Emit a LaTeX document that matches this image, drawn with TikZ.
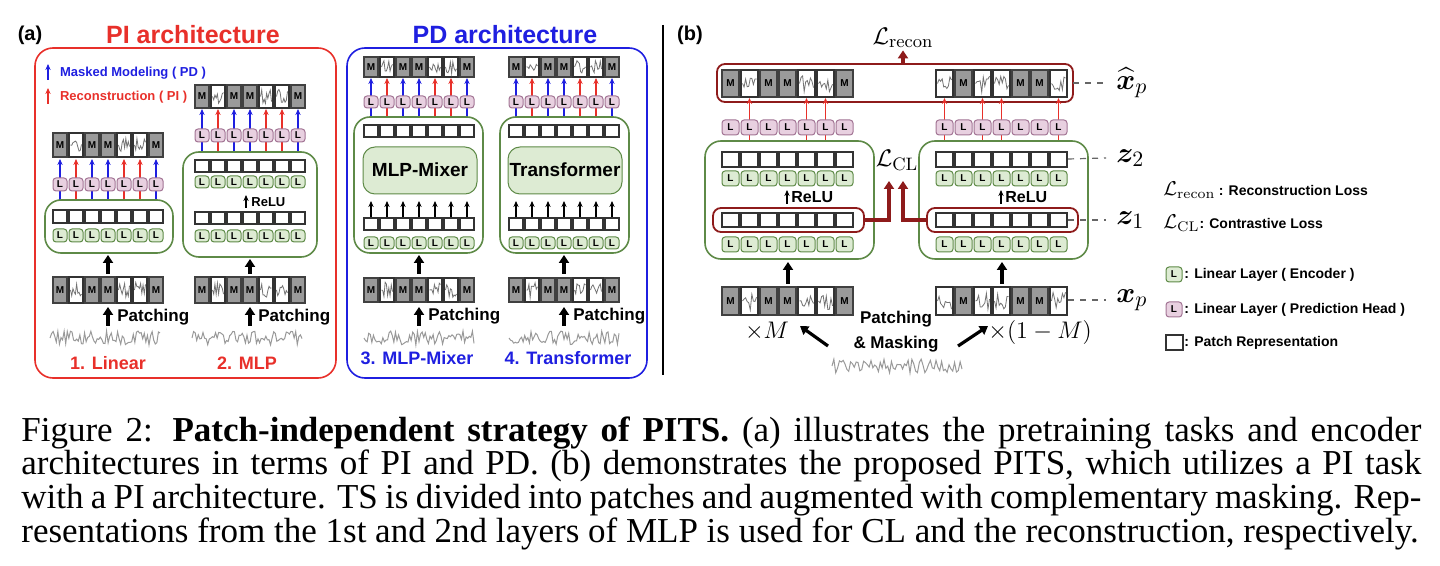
\documentclass[tikz,border=0pt]{standalone}
\usepackage{amsmath,bm}
\usepackage[no-math]{fontspec}
\setmainfont{Liberation Sans}
\newfontfamily\capfont{Liberation Serif}
\usetikzlibrary{arrows.meta}
\definecolor{gfill}{HTML}{DDEBD3}
\definecolor{gdraw}{HTML}{5E8A47}
\definecolor{pfill}{HTML}{E8D0E0}
\definecolor{pdraw}{HTML}{A27494}
\definecolor{dred}{HTML}{8E1B1B}
\definecolor{pired}{HTML}{E8302A}
\definecolor{pdblue}{HTML}{1F1FE0}
\definecolor{mgray}{HTML}{9A9A9A}
\tikzset{
  mcell/.style={draw=black!75,fill=mgray,line width=0.8pt},
  wcell/.style={draw=black!80,fill=white,line width=0.8pt},
  wv/.style={draw=black!55,line width=0.4pt},
  encL/.style={draw=gdraw,fill=gfill,rounded corners=1.5pt,line width=0.5pt},
  preL/.style={draw=pdraw,fill=pfill,rounded corners=1.5pt,line width=0.5pt},
  gbox/.style={draw=gdraw,rounded corners=8pt,line width=0.8pt},
  rbox/.style={draw=dred,rounded corners=4pt,line width=0.9pt},
  thickarr/.style={-{Triangle[length=4pt,width=5pt]},line width=1.6pt},
  redarr/.style={-{Triangle[length=4pt,width=5pt]},line width=2pt,draw=dred},
  thinarr/.style={-{Stealth[length=3pt,width=2.6pt]},line width=0.6pt},
  tiny/.style={font=\bfseries\fontsize{5}{5}\selectfont,inner sep=0pt},
  patch/.style={font=\bfseries\fontsize{8.5}{9}\selectfont,anchor=west,inner sep=0pt},
  lbl/.style={font=\bfseries\fontsize{9}{10}\selectfont,inner sep=0pt},
  ttl/.style={font=\bfseries\fontsize{12.5}{13}\selectfont,inner sep=0pt},
  leg/.style={font=\bfseries\fontsize{7}{8}\selectfont,anchor=west,inner sep=0pt},
  dsh/.style={dashed,black!60,line width=0.6pt},
}
% patch row: x0,y0,pitch,w,h,codes (1=M, 0=wave, 2=empty)
\newcommand\PRow[6]{%
  \foreach \c [count=\i from 0] in {#6}{%
    \pgfmathsetmacro\xx{#1+\i*#3}%
    \ifnum\c=1
      \draw[mcell] (\xx,#2) rectangle ++(#4,#5);
      \node[tiny] at (\xx+#4/2,#2+#5/2) {M};
    \else
      \draw[wcell] (\xx,#2) rectangle ++(#4,#5);
      \ifnum\c=0
        \draw[wv] (\xx+1.5,#2+#5/2) \foreach \k in {1,...,9}{ -- ({\xx+1.5+\k*(#4-3)/9},{#2+#5/2+(rand)*#5*0.32}) };
      \fi
    \fi
  }}
% L row: x0,y0,pitch,w,h,style
\newcommand\LRow[6]{%
  \foreach \i in {0,...,6}{%
    \pgfmathsetmacro\xx{#1+\i*#3}%
    \draw[#6] (\xx,#2) rectangle ++(#4,#5);
    \node[tiny] at (\xx+#4/2,#2+#5/2) {L};
  }}
% arrow row: x0,pitch,w,ybottom,ytop,colours
\newcommand\ARow[6]{%
  \foreach \cl [count=\i from 0] in {#6}{%
    \pgfmathsetmacro\xx{#1+\i*#2+#3/2}%
    \draw[thinarr,draw=\cl] (\xx,#4) -- (\xx,#5);
  }}
% big signal: x0,y,width
\newcommand\Sig[3]{%
  \draw[draw=black!40,line width=0.5pt] (#1,#2) \foreach \k in {1,...,70}{ -- ({#1+\k*#3/70},{#2+(rand)*7}) };}

\begin{document}
\begin{tikzpicture}[x=0.5pt,y=-0.5pt]
\pgfmathsetseed{11}
\useasboundingbox (0,0) rectangle (1440,566);

% ===== (a) =====
\node[font=\bfseries\fontsize{10}{10}\selectfont] (la) at (30,35) {(a)};
\node[ttl,text=pired] (tpi) at (193,35) {PI architecture};
\node[ttl,text=pdblue] (tpd) at (505,35) {PD architecture};
\draw[draw=pired,rounded corners=9pt,line width=0.8pt] (35,48) rectangle (336,378);
\draw[draw=pdblue,rounded corners=9pt,line width=0.8pt] (347,48) rectangle (647,378);
\draw[line width=0.8pt] (663,25) -- (663,375);

% legend
\draw[thinarr,draw=pdblue] (48,80) -- (48,64);
\node[font=\bfseries\fontsize{6.5}{7}\selectfont,text=pdblue,anchor=west] (lg1) at (53,73) {Masked Modeling ( PD )};
\draw[thinarr,draw=pired] (48,104) -- (48,88);
\node[font=\bfseries\fontsize{6.5}{7}\selectfont,text=pired,anchor=west] (lg2) at (53,97) {Reconstruction ( PI )};

% --- 1. Linear
\ARow{53}{16}{14}{200}{159}{pdblue,pired,pdblue,pdblue,pired,pired,pdblue}
\PRow{53}{133}{16}{14}{24}{1,0,1,1,0,0,1}
\LRow{53}{178}{16}{14}{13}{preL}
\draw[gbox] (45,200) rectangle (173,253);
\PRow{53}{210}{16}{14}{13}{2,2,2,2,2,2,2}
\LRow{53}{229}{16}{14}{13}{encL}
\draw[thickarr] (108,274) -- (108,255);
\PRow{53}{277}{16}{14}{26}{1,0,1,1,0,0,1}
\draw[thickarr] (108,326) -- (108,307);
\node[patch] (p1) at (117,317) {Patching};
\Sig{50}{338}{110}
\node[lbl,text=pired] (n1) at (108,363) {1. Linear};

% --- 2. MLP
\ARow{195}{16}{14}{152}{109}{pdblue,pired,pdblue,pdblue,pired,pired,pdblue}
\PRow{195}{85}{16}{14}{23}{1,0,1,1,0,0,1}
\LRow{195}{129}{16}{14}{13}{preL}
\draw[gbox] (183,152) rectangle (317,257);
\PRow{195}{160}{16}{14}{12}{2,2,2,2,2,2,2}
\LRow{195}{176}{16}{14}{12}{encL}
\draw[thinarr] (246,208) -- (246,195);
\node[font=\bfseries\fontsize{6.5}{7}\selectfont,anchor=west,inner sep=0pt] (r1) at (251,202) {ReLU};
\PRow{195}{212}{16}{14}{12}{2,2,2,2,2,2,2}
\LRow{195}{230}{16}{14}{12}{encL}
\draw[thickarr] (250,274) -- (250,259);
\PRow{195}{277}{16}{14}{26}{1,0,1,1,0,0,1}
\draw[thickarr] (250,326) -- (250,307);
\node[patch] (p2) at (258,317) {Patching};
\Sig{192}{338}{110}
\node[lbl,text=pired] (n2) at (247,363) {2. MLP};

% --- 3. MLP-Mixer & 4. Transformer
\foreach \X/\B/\name in {364/354/MLP-Mixer,509/500/Transformer}{
  \ARow{\X}{16}{14}{117}{78}{pdblue,pired,pdblue,pdblue,pired,pired,pdblue}
  \PRow{\X}{57}{16}{14}{20}{1,0,1,1,0,0,1}
  \LRow{\X}{96}{16}{14}{12}{preL}
  \draw[gbox] (\B,117) rectangle ({\B+129},253);
  \PRow{\X}{125}{16}{14}{12}{2,2,2,2,2,2,2}
  \draw[encL,rounded corners=6pt] ({\X-1},147) rectangle ({\X+113},194);
  \node[font=\bfseries\fontsize{9.5}{10}\selectfont] at ({\X+56},170) {\name};
  \ARow{\X}{16}{14}{217}{201}{black,black,black,black,black,black,black}
  \PRow{\X}{218}{16}{14}{12}{2,2,2,2,2,2,2}
  \LRow{\X}{237}{16}{14}{12}{encL}
  \draw[thickarr] ({\X+55},274) -- ({\X+55},255);
  \PRow{\X}{278}{16}{14}{24}{1,0,1,1,0,0,1}
  \draw[thickarr] ({\X+55},326) -- ({\X+55},307);
  \node[patch] at ({\X+64},316) {Patching};
  \Sig{\X}{338}{110}
}
\node[lbl,text=pdblue] (n3) at (417,358) {3. MLP-Mixer};
\node[lbl,text=pdblue] (n4) at (568,358) {4. Transformer};

% ===== (b) =====
\node[font=\bfseries\fontsize{10}{10}\selectfont] (lb) at (690,35) {(b)};
\draw[rbox] (717,64) rectangle (1073,102);
\PRow{722}{70}{19}{17}{27}{1,0,1,1,0,0,1}
\PRow{936}{70}{19}{17}{27}{0,1,0,0,1,1,0}
\coordinate (rt) at (903,64);
\node[font=\fontsize{13}{13}\selectfont,inner sep=1pt] (lrec) at (903,38) {$\mathcal{L}_{\mathrm{recon}}$};
\draw[redarr] (rt) -- (lrec);
% thin red arrows
\foreach \i in {1,4,5}{\draw[thinarr,draw=pired] ({722+\i*19+8.5},141) -- ({722+\i*19+8.5},98);}
\foreach \i in {0,2,3,6}{\draw[thinarr,draw=pired] ({936+\i*19+8.5},141) -- ({936+\i*19+8.5},98);}
\foreach \X/\B/\R/\M in {722/705/713/787,936/919/927/1001}{
  \LRow{\X}{120}{19}{17}{15}{preL}
  \draw[gbox] (\B,141) rectangle ({\B+169},259);
  \PRow{\X}{152}{19}{17}{15}{2,2,2,2,2,2,2}
  \LRow{\X}{171}{19}{17}{15}{encL}
  \draw[thinarr] (\M,204) -- (\M,190);
  \node[font=\bfseries\fontsize{8}{8}\selectfont,anchor=west,inner sep=0pt] at ({\M+4},197) {ReLU};
  \draw[rbox] (\R,208) rectangle ({\R+151},232);
  \PRow{\X}{213}{19}{17}{14}{2,2,2,2,2,2,2}
  \LRow{\X}{237}{19}{17}{15}{encL}
  \draw[thickarr] ({\M+1},284) -- ({\M+1},262);
}
\coordinate (zl) at (864,220);
\coordinate (zr) at (927,220);
\node[font=\fontsize{13}{13}\selectfont,inner sep=1pt] (lcl) at (897,160) {$\mathcal{L}_{\mathrm{CL}}$};
\draw[redarr] (zl) -| (889,181);
\draw[redarr] (zr) -| (903,181);
\PRow{722}{287}{19}{17}{28}{1,0,1,1,0,0,1}
\PRow{936}{287}{19}{17}{28}{0,1,0,0,1,1,0}
\node[font=\fontsize{12}{12}\selectfont] (xm) at (767,331) {$\times M$};
\node[font=\fontsize{12}{12}\selectfont] (x1m) at (1040,333) {$\times(1-M)$};
\node[font=\bfseries\fontsize{8.5}{12.5}\selectfont,align=center] (pm) at (896,332) {Patching\\\& Masking};
\coordinate (al) at (828,346); \coordinate (ar) at (958,346);
\draw[thickarr] (al) -- (800,326);
\draw[thickarr] (ar) -- (988,326);
\Sig{832}{366}{130}
% dashed labels
\node[font=\fontsize{15}{15}\selectfont,anchor=west,inner sep=0pt] (xh) at (1116,83) {$\widehat{\bm{x}}_p$};
\node[font=\fontsize{15}{15}\selectfont,anchor=west,inner sep=0pt] (z2) at (1116,158) {$\bm{z}_2$};
\node[font=\fontsize{15}{15}\selectfont,anchor=west,inner sep=0pt] (z1) at (1116,220) {$\bm{z}_1$};
\node[font=\fontsize{15}{15}\selectfont,anchor=west,inner sep=0pt] (xp) at (1116,300) {$\bm{x}_p$};
\coordinate (de) at (1106,0);
\draw[dsh] (1073,83) -- (de |- xh);
\draw[dsh] (1068,159) -- (de |- z2);
\draw[dsh] (1068,220) -- (de |- z1);
\draw[dsh] (1068,300) -- (de |- xp);
% legend
\node[anchor=west,inner sep=0pt] (lg3) at (1163,190) {$\mathcal{L}_{\mathrm{recon}}$\,\textbf{\fontsize{7}{8}\selectfont: Reconstruction Loss}};
\node[anchor=west,inner sep=0pt] (lg4) at (1163,223) {$\mathcal{L}_{\mathrm{CL}}$\textbf{\fontsize{7}{8}\selectfont: Contrastive Loss}};
\draw[encL] (1166,267) rectangle ++(16,15); \node[tiny] at (1174,274.5) {L};
\node[leg] (lg5) at (1184,275) {: Linear Layer ( Encoder )};
\draw[preL] (1166,302) rectangle ++(16,15); \node[tiny] at (1174,309.5) {L};
\node[leg] (lg6) at (1184,310) {: Linear Layer ( Prediction Head )};
\draw[wcell] (1166,335) rectangle ++(17,15);
\node[leg] (lg7) at (1184,343) {: Patch Representation};

% ===== caption =====
\node[anchor=north west,inner sep=0pt,text width=700pt,align=justify,font=\capfont\fontsize{17.5}{16.9}\selectfont] (cap) at (21,416)
{Figure 2: \textbf{Patch-independent strategy of PITS.} (a) illustrates the pretraining tasks and encoder\linebreak architectures in terms of PI and PD. (b) demonstrates the proposed PITS, which utilizes a PI task\linebreak with a PI architecture. TS is divided into patches and augmented with complementary masking. Rep-\linebreak resentations from the 1st and 2nd layers of MLP is used for CL and the reconstruction, respectively.};
\end{tikzpicture}
\end{document}
